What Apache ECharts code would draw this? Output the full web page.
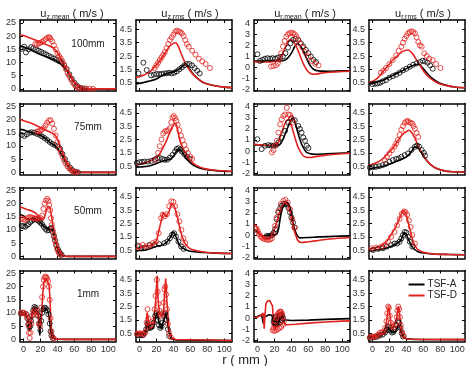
<!DOCTYPE html>
<html><head><meta charset="utf-8">
<script src="https://cdn.jsdelivr.net/npm/echarts@6/dist/echarts.min.js"></script>
<style>html,body{margin:0;padding:0;background:#fff}#c{width:474px;height:366px}</style>
</head><body><div id="c"></div>
<script>
// ---------- tick labels / categories ----------
const xTicks = [0, 20, 40, 60, 80, 100];
const yTicksUzMean = [0, 5, 10, 15, 20, 25];
const yTicksRms = [0.5, 1.5, 2.5, 3.5, 4.5];
const yTicksUrMean = [-2, -1, 0, 1, 2, 3, 4];
const stations = ['100mm', '75mm', '50mm', '1mm'];
const quantities = [['u', 'z,mean'], ['u', 'z,rms'], ['u', 'r,mean'], ['u', 'r,rms']];
const seriesNames = ['TSF-A', 'TSF-D'];

// ---------- 100 mm ----------
const uzMean100SimA = [[-4,16.2],[0,16],[10,14.5],[20,13],[30,11.8],[36,11],[40,10.4],[45,9.3],[50,7.5],[55,5],[60,2.5],[65,0.8],[70,0.1],[80,0],[109,0]];
const uzMean100SimD = [[-4,20.5],[0,20.2],[10,19],[20,17.8],[30,16.4],[35,15.5],[40,13.8],[45,11],[50,8],[55,5],[60,2.5],[65,0.8],[70,0.1],[80,0],[109,0]];
const uzMean100ExpA = [[-2,15.2],[1,16.0],[3,13.8],[6,15.0],[9,15.8],[12,15.5],[15,15.0],[18,14.5],[21,14.0],[24,13.5],[27,13.0],[30,12.5],[33,12.0],[36,11.5],[39,11.0],[42,10.5],[45,10.0],[48,9.0],[51,7.5],[54,5.5],[57,3.8],[60,2.3],[63,1.2],[66,0.5],[69,0.2],[72,0.1]];
const uzMean100ExpD = [[14,17.0],[16,16.8],[18,17.2],[20,17.5],[22,17.8],[24,18.3],[26,18.8],[28,19.3],[30,19.6],[31,19.4],[32,18.8],[34,18.0],[36,16.5],[38,15.0],[40,13.5],[42,12.5],[44,11.5],[46,10.5],[48,9.0],[50,7.5],[52,6.0],[54,4.8],[56,3.6],[58,2.5],[60,1.6],[62,1.0],[64,0.5],[66,0.3],[70,0.1],[74,0.1],[78,0],[82,0]];
const uzRms100SimA = [[-4,0.42],[0,0.45],[10,0.6],[20,0.78],[27,1.05],[33,1.2],[40,1.3],[46,1.5],[50,1.7],[54,1.88],[57,1.75],[60,1.45],[64,1.1],[68,0.85],[74,0.55],[80,0.4],[90,0.25],[100,0.17],[109,0.13]];
const uzRms100SimD = [[-4,0.9],[0,0.95],[6,1.1],[12,1.3],[18,1.7],[24,2.15],[30,2.7],[35,3.2],[40,3.45],[43,3.5],[46,3.2],[49,2.7],[53,2.1],[57,1.65],[62,1.2],[67,0.9],[73,0.6],[80,0.4],[90,0.25],[100,0.17],[109,0.13]];
const uzRms100ExpA = [[-1,1.2],[4.7,2.0],[8.6,1.45],[13.7,1.05],[17,1.1],[20,1.15],[23,1.15],[26,1.15],[29,1.2],[32,1.2],[35,1.25],[38,1.2],[41,1.25],[44,1.35],[47,1.5],[50,1.65],[53,1.8],[56,1.9],[59,1.9],[62,1.8],[65,1.6],[68,1.4],[71,1.2]];
const uzRms100ExpD = [[18,1.6],[20,1.8],[22,2.0],[24,2.2],[26,2.4],[28,2.6],[30,2.8],[32,3.1],[34,3.4],[36,3.7],[38,3.9],[40,4.1],[42,4.3],[44,4.4],[46,4.35],[48,4.3],[50,4.2],[52,4.0],[54,3.7],[56,3.4],[58,3.2],[62,2.9],[66,2.6],[70,2.3],[74,2.1],[78,1.9],[83,1.6]];
const urMean100SimA = [[-4,0.6],[10,0.6],[20,0.6],[30,0.62],[35,0.8],[40,1.3],[44,1.9],[47,2.15],[50,2.0],[54,1.5],[58,0.8],[62,0.2],[66,-0.15],[72,-0.3],[85,-0.33],[100,-0.3],[109,-0.3]];
const urMean100SimD = [[-4,0.5],[10,0.5],[20,0.55],[25,0.7],[30,1.3],[34,2.0],[37,2.45],[40,2.5],[43,2.3],[47,1.7],[51,0.9],[55,0.2],[59,-0.3],[63,-0.55],[68,-0.6],[75,-0.5],[85,-0.42],[100,-0.35],[109,-0.33]];
const urMean100ExpA = [[0,1.2],[3,0.6],[6,0.7],[9,0.8],[12,0.85],[15,0.8],[18,0.85],[21,0.8],[24,0.9],[27,0.95],[30,1.0],[33,1.3],[36,1.8],[39,2.2],[42,2.5],[45,2.6],[48,2.5],[51,2.2],[54,1.9],[57,1.6],[60,1.3],[63,1.0],[66,0.7],[69,0.5]];
const urMean100ExpD = [[16,0.1],[19,0.15],[22,0.2],[24,0.4],[26,0.7],[28,1.3],[30,1.9],[32,2.4],[34,2.8],[36,3.0],[38,3.1],[40,3.15],[42,3.1],[44,3.0],[46,2.8],[48,2.5],[50,2.2],[53,1.8],[56,1.4],[60,1.0],[64,0.6],[68,0.35],[72,0.2]];
const urRms100SimA = [[-4,0.43],[0,0.45],[12,0.68],[24,1.05],[36,1.42],[45,1.72],[50,1.85],[54,1.88],[58,1.7],[62,1.4],[66,1.1],[71,0.8],[78,0.5],[87,0.3],[97,0.18],[109,0.12]];
const urRms100SimD = [[-4,0.55],[0,0.6],[6,0.85],[12,1.3],[18,1.75],[24,2.2],[30,2.55],[36,2.85],[42,2.95],[47,2.7],[52,2.2],[57,1.7],[61,1.3],[66,0.95],[71,0.7],[78,0.45],[87,0.3],[97,0.18],[109,0.12]];
const urRms100ExpA = [[0,0.4],[3,0.42],[6,0.45],[9,0.5],[12,0.6],[16,0.7],[20,0.88],[24,1.0],[28,1.1],[32,1.25],[36,1.42],[40,1.55],[44,1.7],[48,1.85],[52,1.95],[56,2.05],[59,2.15],[62,2.1],[65,2.0],[68,1.8],[71,1.55]];
const urRms100ExpD = [[10,1.25],[13,1.4],[16,1.6],[20,1.9],[24,2.2],[28,2.55],[31,2.9],[34,3.2],[36,3.5],[38,3.8],[40,4.0],[42,4.2],[44,4.3],[46,4.35],[48,4.3],[50,4.2],[52,3.9],[54,3.55],[56,3.3],[58,3.2],[61,2.7],[64,2.5],[67,2.3],[71,2.2],[75,1.9],[80,1.6]];

// ---------- 75 mm ----------
const uzMean75SimA = [[-4,16.3],[0,16.1],[8,15.2],[16,14.5],[24,13.3],[31,11.4],[37,10.1],[41,8.8],[44,7.2],[47,5.6],[50,3.9],[53,2.4],[56,1.2],[59,0.4],[62,0.05],[70,0],[109,0]];
const uzMean75SimD = [[-4,20],[0,19.6],[10,18.5],[20,17],[30,15.5],[36,14.5],[38,13.8],[40,12.5],[42,11],[44,9.5],[46,7.7],[48,6],[50,4.4],[52,3],[54,2],[56,1.2],[58,0.6],[60,0.3],[64,0.05],[70,0],[109,0]];
const uzMean75ExpA = [[-2,14.2],[1,13.8],[4,14.4],[7,15.0],[10,15.2],[13,15.0],[16,14.6],[19,14.2],[22,13.6],[25,13.0],[28,12.3],[31,11.5],[34,10.8],[37,10.4],[40,9.8],[43,9.0],[46,7.0],[49,5.0],[52,3.2],[55,1.8],[58,0.8],[61,0.2],[64,0.05]];
const uzMean75ExpD = [[16,15.5],[18,15.5],[20,15.8],[22,16.2],[24,16.8],[26,17.8],[28,18.8],[30,19.6],[32,19.8],[34,18.5],[36,16.5],[38,14.0],[40,11.5],[42,9.0],[44,7.5],[46,6.0],[48,4.5],[50,3.3],[52,2.3],[54,1.5],[56,0.9],[58,0.4],[60,0.15],[63,0.05]];
const uzRms75SimA = [[-4,0.42],[0,0.44],[10,0.5],[20,0.7],[28,0.9],[33,0.98],[37,1.05],[40,1.25],[43,1.55],[46,1.78],[48,1.75],[51,1.5],[55,1.1],[60,0.75],[66,0.5],[75,0.3],[90,0.17],[109,0.1]];
const uzRms75SimD = [[-4,0.6],[0,0.65],[6,0.75],[12,0.88],[18,1.1],[23.5,1.4],[28,1.9],[31,2.3],[35,2.9],[39,3.45],[42,3.7],[44,3.5],[47,2.6],[50,2.0],[53,1.6],[56,1.25],[59,0.98],[64,0.7],[70,0.47],[78,0.3],[86,0.22],[96,0.16],[109,0.12]];
const uzRms75ExpA = [[-3,0.75],[0,0.8],[3,0.82],[6,0.85],[10,0.85],[14,0.9],[18,1.0],[21,1.1],[24,1.12],[27,1.05],[30,0.98],[33,1.0],[36,1.15],[39,1.35],[42,1.6],[44,1.8],[46,1.85],[48,1.75],[50,1.6],[53,1.4],[56,1.2],[59,1.05]];
const uzRms75ExpD = [[19,0.98],[22,1.5],[24,2.0],[26,2.5],[28,2.95],[30,3.1],[32,3.15],[34,3.2],[36,3.35],[37.5,3.8],[39,4.15],[40.5,4.25],[42,4.1],[43.5,3.9],[45,3.6],[47,3.2],[49,2.8],[51,2.45],[53,2.1],[55,1.75],[57,1.5],[60,1.2],[62,1.05]];
const urMean75SimA = [[-4,0.55],[0,0.55],[10,0.5],[20,0.48],[25,0.5],[29,0.9],[32.5,1.5],[36,2.2],[39,2.75],[42,3.0],[44,2.7],[46,2.1],[49,1.3],[52,0.63],[55,0.2],[58,-0.12],[63,-0.25],[68,-0.28],[80,-0.25],[95,-0.2],[109,-0.17]];
const urMean75SimD = [[-4,0.62],[0,0.6],[10,0.52],[20,0.55],[24,0.7],[27,1.3],[30.5,2.1],[33.5,2.65],[36.5,2.87],[39,2.5],[42,1.82],[45,1.0],[48,0.33],[51,-0.1],[54,-0.42],[58,-0.57],[63,-0.58],[68,-0.5],[76,-0.42],[84,-0.33],[95,-0.26],[109,-0.2]];
const urMean75ExpA = [[0,1.07],[5,0.18],[9,0.48],[13,0.54],[16,0.5],[19,0.48],[22,0.55],[25,0.8],[28.5,1.22],[32.5,1.82],[36.5,2.57],[40,2.95],[44,2.78],[48,2.27],[50,2.0],[52,1.67],[54,1.22],[56,0.93],[58,0.48],[60,0.27]];
const urMean75ExpD = [[17,-0.12],[19,0.09],[21,0.5],[23,0.93],[24.7,1.67],[26.7,2.42],[28.6,2.87],[30.6,3.16],[32.5,3.3],[34.5,3.9],[36.5,3.3],[38.4,3.25],[40,3.0],[42,2.57]];
const urRms75SimA = [[-4,0.32],[0,0.35],[12.5,0.5],[24,0.75],[32,0.96],[40,1.2],[44,1.45],[47,1.7],[50,1.95],[53,1.9],[56,1.72],[60,1.3],[63.5,0.96],[69,0.6],[75,0.35],[85,0.15],[95,0.09],[109,0.07]];
const urRms75SimD = [[-4,0.58],[0,0.65],[6,0.8],[12.5,1.08],[18,1.45],[24,1.84],[28,2.2],[32,2.6],[36,2.9],[40,3.1],[43,3.2],[46,3.05],[50,2.6],[53,2.15],[56,1.72],[60,1.3],[63.5,0.96],[69,0.6],[75,0.35],[85,0.15],[95,0.09],[109,0.07]];
const urRms75ExpA = [[-3,0.4],[0,0.42],[4,0.45],[8,0.5],[12,0.58],[16,0.68],[20,0.83],[24,0.96],[28,1.04],[31,1.08],[34,1.2],[38,1.33],[42,1.46],[46,1.72],[50,1.95],[52.5,2.05],[55,1.97],[58,1.72],[60.5,1.5],[62,1.3]];
const urRms75ExpD = [[14.5,0.96],[17,1.2],[20,1.46],[23,1.7],[26,1.97],[28,2.2],[30,2.47],[32,2.85],[34,3.23],[36,3.5],[38,3.74],[40,3.85],[41.5,3.9],[43,3.8],[45,3.75],[47,3.7],[48.5,3.5],[50,3.3],[52,3.0],[54,2.7]];

// ---------- 50 mm ----------
const uzMean50SimA = [[-4,15.9],[0,15.4],[4,14.2],[12,14.2],[20,12.9],[25.5,11],[31,10.1],[34.5,9.7],[36,8],[37.5,6],[39.5,3.8],[41,2.0],[43,1.0],[45,0.4],[49,0.05],[55,0],[109,0]];
const uzMean50SimD = [[-4,18.8],[0,18.3],[5,17.7],[10,17.2],[15,16.2],[20,14.5],[23,13.8],[25,15],[27,17.5],[29,19],[31,18.5],[33,15.5],[35,11],[37,7.5],[39,4.8],[41,2.8],[43,1.4],[45,0.6],[48,0.1],[55,0],[109,0]];
const uzMean50ExpA = [[-2,11.6],[0,11.4],[2,11.2],[4,11.8],[6,12.2],[8,13.0],[10,13.5],[12,13.9],[14,14.2],[16,13.8],[18,13.4],[20,12.8],[22,12.2],[24,11.2],[26,10.4],[28,9.8],[30,10.0],[31.5,10.5],[33,10.8],[34.5,9.2],[36,7.5],[37.5,6.0],[39,4.2],[40.5,2.8],[42,1.8],[43.5,1.0],[45,0.6]];
const uzMean50ExpD = [[-2,14.4],[0,14.0],[2,13.8],[4,14.4],[6,14.8],[8,14.9],[10,14.7],[12,14.5],[14,14.4],[16,14.2],[18,14.3],[20,14.6],[22,15.5],[23.5,18.0],[25,20.0],[26.5,21.2],[28,21.8],[29.5,21.0],[30.5,19.5],[31.5,17.5],[32.5,14.5],[33.5,12],[34.5,10],[36,8.0],[37,6.0],[38,4.5],[39.5,3.0],[41,1.8],[42.5,1.0],[44,0.5]];
const uzRms50SimA = [[-4,0.45],[0,0.48],[8,0.52],[19.6,0.78],[27.5,0.9],[33,1.15],[37,1.53],[39.5,1.86],[41,1.8],[43,1.53],[47,0.9],[51,0.65],[55,0.52],[62,0.4],[70,0.35],[90,0.28],[109,0.26]];
const uzRms50SimD = [[-4,0.6],[0,0.65],[7.8,0.78],[15.7,0.9],[19.6,1.15],[22,1.7],[25.5,2.66],[28,3.3],[31,3.04],[35,3.42],[38,4.0],[41,3.8],[45,2.9],[49,1.78],[52,1.25],[55,0.9],[60,0.6],[65,0.5],[78,0.35],[95,0.28],[109,0.26]];
const uzRms50ExpA = [[-2,0.85],[2,0.65],[6,0.7],[12,0.9],[17.6,0.9],[23.5,0.95],[29.4,1.03],[33,1.15],[36,1.4],[38.4,1.66],[40.8,1.78],[43,1.53],[46,1.15],[49,0.78],[52,0.6]];
const uzRms50ExpD = [[0,0.78],[4,0.9],[8,0.78],[12,0.85],[15.7,1.03],[19.6,1.15],[22.7,1.78],[25.5,2.9],[27.5,3.17],[30,3.04],[32.5,3.2],[35,3.8],[37.6,4.17],[40,4.12],[42,3.8],[44.7,3.2],[47,2.66],[49.4,2.03],[51.8,1.4],[54,1.03]];
const urMean50SimA = [[-4,0.5],[-1.5,0.38],[2,0.1],[5,-0.07],[10,-0.05],[17,0],[22.7,0.08],[25,0.6],[26.7,1.43],[28.6,2.19],[30.5,2.6],[32.5,2.79],[34.5,2.94],[36.5,2.8],[38.4,2.49],[40.5,1.8],[42,1.13],[44,0.5],[46,0.08],[48,-0.15],[50,-0.25],[60,-0.22],[72,-0.16],[90,-0.11],[109,-0.07]];
const urMean50SimD = [[-4,0.9],[-1.5,0.83],[1,0.4],[3,0.08],[6,-0.2],[9,-0.37],[12,-0.35],[15,-0.22],[18,0.1],[20,0.5],[22.7,1.13],[24.7,1.7],[26.7,2.19],[28.6,2.55],[30.6,2.79],[32.5,3.0],[34.5,2.9],[36.5,2.64],[38,2.2],[40,1.58],[42,0.9],[44,0.23],[46,-0.2],[48,-0.52],[52,-0.67],[58,-0.62],[68,-0.52],[85,-0.35],[109,-0.22]];
const urMean50ExpA = [[11,-0.07],[13,-0.12],[15,-0.07],[17,0.0],[19,0.2],[20.8,0.53],[22.7,1.43],[24.7,2.04],[26.7,2.4],[28.6,2.65],[30.6,2.8],[32.5,2.85],[34.5,2.75],[36.5,2.45],[38.4,2.04],[40,1.6],[42,1.13],[44,0.68]];
const urMean50ExpD = [[-1,0.6],[0.5,0.35],[2,0.1],[3.5,-0.1],[5,-0.22],[7,-0.3],[9,-0.37],[11,-0.4],[13,-0.43],[15,-0.4],[17,-0.3],[19,0.1],[20.8,0.83],[22.7,1.58],[24.7,2.19],[27.5,2.79],[30.6,3.09],[33,3.18],[35.7,2.94],[38.4,2.34],[41,1.43],[43.5,0.68]];
const urRms50SimA = [[-4,0.45],[0,0.47],[12.5,0.6],[24,0.84],[32,1.14],[34,1.3],[36,1.63],[38,1.82],[40,1.65],[42,1.38],[45,0.95],[48,0.65],[52,0.45],[56,0.33],[70,0.22],[90,0.18],[109,0.16]];
const urRms50SimD = [[-4,0.6],[0,0.65],[8.6,0.77],[16.5,1.14],[20,1.45],[24,1.87],[27,2.2],[30,2.6],[33,3.05],[35,3.35],[37,3.47],[39,3.3],[40,3.1],[42,2.6],[44,2.12],[46,1.6],[48,1.14],[51,0.75],[54,0.52],[60,0.35],[71,0.23],[90,0.18],[109,0.16]];
const urRms50ExpA = [[0.8,0.52],[6.7,0.6],[12.5,0.65],[17,0.77],[22,0.89],[26,1.0],[29,1.0],[32,1.14],[34,1.38],[36,1.63],[38,1.87],[40,1.82],[42,1.5],[44,1.14],[47,0.77]];
const urRms50ExpD = [[-1,0.65],[4.7,0.7],[10.6,0.77],[14.5,0.89],[18.4,1.14],[22,1.5],[26,1.87],[29,2.36],[32,2.85],[34.5,3.22],[37,3.4],[39,3.35],[41,3.15],[43,2.73],[45,2.24],[47,1.63],[50,1.0]];

// ---------- 1 mm ----------
const uzMean1SimA = [[-4,9.8],[0,9.9],[3,9.5],[5,7.5],[6.5,4.5],[7.5,3.2],[8.5,5.5],[10,9],[12,11.5],[13.5,12.3],[16,11.5],[17.5,9],[18.5,5.5],[19.3,1.5],[20.3,6],[21.5,10],[23,11.8],[25,12.2],[27,11.7],[29,10.5],[30.5,8],[32,3.5],[33,1.5],[35,0.4],[40,0.1],[50,0],[109,0]];
const uzMean1SimD = [[-4,9.8],[0,9.9],[3,9.7],[5,8.5],[6.5,5.5],[7.5,3.0],[8.5,4.5],[10,8.5],[12,10.6],[14,11.0],[16,10.3],[17.5,8.5],[19,6.0],[20,5.0],[21,7.5],[22,13],[23,18],[24,21.5],[26,23.2],[28,23.0],[30,21],[31,17],[32,10],[33,4],[34,1.5],[36,0.4],[40,0.1],[50,0],[109,0]];
const uzMean1ExpA = [[-3,9.8],[0,10],[3,9.6],[5,8],[6,6],[7,4.5],[8,5],[9,7],[10,9],[11.5,11],[13,12.3],[14.5,12],[16,11],[17.5,9],[19,6],[20,3.5],[21,7],[22,10],[23.5,11.5],[25,12],[26.5,11.8],[28,11],[29.5,9.5],[31,6],[32,3],[33,1.5],[34.5,0.5]];
const uzMean1ExpD = [[-3,10],[-1,10.2],[1,10],[3,9.5],[4.5,8],[5.5,5.5],[6.5,2.5],[7.5,0.5],[8.5,2.5],[9.5,6],[10.5,9],[12,10.5],[13.5,11],[15,10.5],[16.5,9],[18,6],[19.5,5],[21,12],[22,16],[23,20],[24,22.5],[25,23.5],[26,23.8],[27,23.5],[28,23],[29,22],[30,20],[31,15],[32,8],[33,3],[34,1],[36,0.3]];
const uzRms1SimA = [[-4,0.45],[2,0.42],[6,0.38],[7.8,0.7],[9,1.3],[10,1.07],[12,0.82],[15.7,0.87],[17.6,1.19],[19.6,1.8],[21,2.1],[22.5,1.44],[24,1.07],[26,0.87],[28,1.0],[29.5,1.7],[31,2.1],[32.5,1.56],[34.5,0.7],[37,0.13],[43,0.0],[109,-0.04]];
const uzRms1SimD = [[-4,0.57],[2,0.52],[5.9,0.45],[7.8,0.82],[9,2.05],[10,1.8],[11.8,1.07],[15.7,1.19],[17.6,1.8],[19.6,3.3],[20.8,4.8],[22,3.04],[23.5,2.05],[26,1.75],[28.5,2.2],[30,3.8],[31,4.6],[32.2,3.04],[34.5,1.07],[37,0.2],[43,0.03],[109,-0.04]];
const uzRms1ExpA = [[-2,0.35],[0,0.35],[2,0.35],[4,0.35],[6,0.5],[8,0.8],[9.5,1.2],[11,0.9],[13,0.9],[15,1.0],[17,1.3],[18.5,1.8],[20,2.0],[21.5,1.5],[23,1.1],[24.5,0.9],[26,1.0],[27.5,1.3],[29,1.8],[30.5,2.0],[32,1.5],[33.5,0.8],[35,0.3]];
const uzRms1ExpD = [[-3,0.45],[-1,0.48],[1,0.5],[3,0.45],[5,0.4],[7,0.6],[8.5,1.3],[9.5,2.3],[10.5,1.6],[12,1.0],[14,1.1],[16,1.4],[18,2.3],[19,3.3],[20.5,4.5],[21.5,3.6],[22.5,2.7],[23.5,2.2],[24.5,1.9],[26,1.8],[27.5,2.0],[28.5,2.8],[29.5,3.8],[30.5,4.0],[31.5,3.4],[32.5,2.3],[33.5,1.2],[35,0.5],[37,0.2]];
const urMean1SimA = [[-4,0.1],[0,0.15],[5,0.3],[6,0.35],[7,-0.5],[8,0.1],[10,0.25],[14,0.3],[17,0.25],[19,-0.3],[21,-0.4],[23,-0.2],[25,0.1],[27,0.3],[29,0.2],[31,-0.15],[33,-0.22],[40,-0.22],[60,-0.18],[80,-0.12],[100,-0.07],[109,-0.05]];
const urMean1SimD = [[-4,0.05],[0,0.1],[3,0.2],[5,0.35],[7,0.45],[8,-0.95],[9,0.3],[10,1.3],[12,1.55],[14.5,1.57],[16.5,1.45],[17.8,1.1],[18.8,-0.3],[19.8,-1.0],[21,-0.95],[23,-0.75],[25,-0.4],[27,0.2],[28.6,0.46],[30,0.3],[31,-0.2],[32.5,-0.6],[35,-0.6],[45,-0.55],[60,-0.45],[80,-0.35],[100,-0.27],[109,-0.25]];
const urMean1ExpA = [[19,-0.3],[20,-0.45],[21,-0.5],[22,-0.45],[23,-0.3],[24,-0.1],[25,0.05],[26,0.2],[27,0.3],[28,0.3],[29,0.2],[30,0.0],[29,-0.2],[27,-0.4],[25,-0.5],[23,-0.55],[21,-0.4],[20,-0.1],[21,0.1],[22,0.15]];
const urMean1ExpD = [[18,-1.1],[19,-0.9],[20,-0.6],[21,-0.3],[22,0.0],[23,0.2],[24,0.35],[25,0.45],[26,0.55],[27,0.6],[28,0.55],[29,0.4],[30,0.1],[31,-0.3],[30,-0.6],[28,-0.8],[26,-0.9],[24,-1.0],[22,-1.1],[20,-1.15]];
const urRms1SimA = [[-4,0.2],[0,0.2],[7,0.25],[8,0.35],[12,0.4],[15,0.5],[17,0.7],[19,1.0],[20.5,0.9],[22,0.6],[24,0.5],[26,0.55],[28,0.75],[30,1.1],[31,1.2],[32.5,0.9],[34,0.5],[36,0.25],[40,0.08],[50,0.03],[109,0.02]];
const urRms1SimD = [[-4,0.25],[0,0.25],[5,0.27],[7,0.35],[8,0.5],[10,0.55],[12,0.55],[14,0.7],[16,1.1],[17.5,1.8],[19,2.5],[20,2.3],[21,1.6],[22,1.1],[24,0.9],[26,1.0],[28,1.4],[29.5,2.1],[30.5,2.5],[31.5,2.3],[32.5,1.6],[34,0.8],[36,0.35],[38,0.15],[42,0.07],[60,0.03],[109,0.02]];
const urRms1ExpA = [[-3,0.15],[0,0.18],[3,0.2],[6,0.25],[9,0.35],[12,0.4],[15,0.55],[17,0.75],[18.5,1.0],[20,0.95],[21.5,0.7],[23,0.55],[25,0.6],[27,0.8],[28.5,1.1],[30,1.4],[31.5,1.3],[33,0.9],[34.5,0.5],[36,0.25]];
const urRms1ExpD = [[-3,0.2],[-1,0.22],[1,0.25],[3,0.25],[5,0.3],[7,0.4],[9,0.55],[11,0.55],[13,0.6],[15,0.9],[16.5,1.4],[17.5,2.0],[18.5,2.5],[19.5,2.4],[20.5,1.8],[21.5,1.3],[23,1.0],[25,0.95],[27,1.2],[28.5,1.7],[29.5,2.2],[30.5,2.5],[31.5,2.3],[32.5,1.7],[33.5,1.1],[35,0.6],[37,0.3]];

// panels: row-major, [simA, simD, expA, expD]
const panels = [
  [uzMean100SimA, uzMean100SimD, uzMean100ExpA, uzMean100ExpD],
  [uzRms100SimA, uzRms100SimD, uzRms100ExpA, uzRms100ExpD],
  [urMean100SimA, urMean100SimD, urMean100ExpA, urMean100ExpD],
  [urRms100SimA, urRms100SimD, urRms100ExpA, urRms100ExpD],
  [uzMean75SimA, uzMean75SimD, uzMean75ExpA, uzMean75ExpD],
  [uzRms75SimA, uzRms75SimD, uzRms75ExpA, uzRms75ExpD],
  [urMean75SimA, urMean75SimD, urMean75ExpA, urMean75ExpD],
  [urRms75SimA, urRms75SimD, urRms75ExpA, urRms75ExpD],
  [uzMean50SimA, uzMean50SimD, uzMean50ExpA, uzMean50ExpD],
  [uzRms50SimA, uzRms50SimD, uzRms50ExpA, uzRms50ExpD],
  [urMean50SimA, urMean50SimD, urMean50ExpA, urMean50ExpD],
  [urRms50SimA, urRms50SimD, urRms50ExpA, urRms50ExpD],
  [uzMean1SimA, uzMean1SimD, uzMean1ExpA, uzMean1ExpD],
  [uzRms1SimA, uzRms1SimD, uzRms1ExpA, uzRms1ExpD],
  [urMean1SimA, urMean1SimD, urMean1ExpA, urMean1ExpD],
  [urRms1SimA, urRms1SimD, urRms1ExpA, urRms1ExpD]
];

// ---------- layout / style ----------
const FONT = "'Liberation Sans', Arial, sans-serif";
const RED = '#e2231f', BLACK = '#000000';
const colLeft = [20, 136, 254, 369];
const colCenter = [67, 185, 300, 418];
const rowTop = [20, 103.5, 187.5, 270.5];
const PW = 96, PH = 71;
const yCfg = [
  {min: -0.8, max: 26.1, ticks: yTicksUzMean},
  {min: -0.12, max: 5.2, ticks: yTicksRms},
  {min: -2.11, max: 4.29, ticks: yTicksUrMean},
  {min: -0.12, max: 5.2, ticks: yTicksRms}
];

const grids = [], xAxes = [], yAxes = [], series = [];
const frameLine = {onZero: false, lineStyle: {color: BLACK, width: 1.5}};
panels.forEach((p, i) => {
  const row = Math.floor(i / 4), col = i % 4;
  grids.push({left: colLeft[col], top: rowTop[row], width: PW, height: PH, containLabel: false});
  const yc = yCfg[col];
  const tick = vals => ({show: true, inside: true, length: 3, customValues: vals, lineStyle: {color: BLACK, width: 1}});
  xAxes.push({gridIndex: i, type: 'value', min: -4, max: 109, position: 'bottom',
    axisLine: frameLine, axisTick: tick(xTicks), splitLine: {show: false},
    axisLabel: {show: row === 3, customValues: xTicks, fontSize: 9, color: '#333', margin: 4, fontFamily: FONT}});
  xAxes.push({gridIndex: i, type: 'value', min: -4, max: 109, position: 'top',
    axisLine: frameLine, axisTick: tick(xTicks), splitLine: {show: false}, axisLabel: {show: false}});
  yAxes.push({gridIndex: i, type: 'value', min: yc.min, max: yc.max, position: 'left',
    axisLine: frameLine, axisTick: tick(yc.ticks), splitLine: {show: false},
    axisLabel: {show: true, customValues: yc.ticks, fontSize: 9, color: '#333', margin: 4, fontFamily: FONT}});
  yAxes.push({gridIndex: i, type: 'value', min: yc.min, max: yc.max, position: 'right',
    axisLine: frameLine, axisTick: tick(yc.ticks), splitLine: {show: false}, axisLabel: {show: false}});
  const xi = 2 * i, yi = 2 * i;
  const smooth = row === 3 ? false : 0.3;
  series.push({type: 'line', name: seriesNames[0], xAxisIndex: xi, yAxisIndex: yi, data: p[0],
    symbol: 'none', smooth: smooth, lineStyle: {color: BLACK, width: 1.6}, itemStyle: {color: BLACK}, z: 2});
  series.push({type: 'line', name: seriesNames[1], xAxisIndex: xi, yAxisIndex: yi, data: p[1],
    symbol: 'none', smooth: smooth, lineStyle: {color: RED, width: 1.6}, itemStyle: {color: RED}, z: 3});
  series.push({type: 'scatter', name: 'expA', xAxisIndex: xi, yAxisIndex: yi, data: p[2],
    symbol: 'circle', symbolSize: 5, itemStyle: {color: 'rgba(0,0,0,0)', borderColor: BLACK, borderWidth: 1}, z: 4});
  series.push({type: 'scatter', name: 'expD', xAxisIndex: xi, yAxisIndex: yi, data: p[3],
    symbol: 'circle', symbolSize: 5, itemStyle: {color: 'rgba(0,0,0,0)', borderColor: RED, borderWidth: 1}, z: 5});
});

const titles = quantities.map((q, c) => ({
  text: '{m|' + q[0] + '}{s|' + q[1] + '}{m| ( m/s )}',
  left: colCenter[c], top: 2, textAlign: 'center',
  textStyle: {fontWeight: 'normal', rich: {
    m: {fontSize: 11, fontWeight: 'normal', fontFamily: FONT, color: '#222', lineHeight: 14, verticalAlign: 'middle'},
    s: {fontSize: 7, fontWeight: 'normal', fontFamily: FONT, color: '#222', lineHeight: 7, verticalAlign: 'bottom'}
  }}
}));
const stationTop = [34, 117.5, 201.5, 284.5];
stations.forEach((s, r) => titles.push({text: s, left: 83, top: stationTop[r], textAlign: 'center',
  textStyle: {fontSize: 10, fontWeight: 'normal', fontFamily: FONT, color: '#222'}}));
titles.push({text: 'r ( mm )', left: 240, top: 349, textAlign: 'center',
  textStyle: {fontSize: 13, fontWeight: 'normal', fontFamily: FONT, color: '#222'}});

const chart = echarts.init(document.getElementById('c'), null, {renderer: 'canvas'});
chart.setOption({
  animation: false,
  backgroundColor: '#fff',
  title: titles,
  legend: {
    data: [{name: 'TSF-A', icon: 'rect', itemStyle: {color: BLACK}}, {name: 'TSF-D', icon: 'rect', itemStyle: {color: RED}}],
    orient: 'vertical', right: 12, top: 274, itemWidth: 16, itemHeight: 2, itemGap: 0,
    selectedMode: false,
    textStyle: {fontSize: 10, fontFamily: FONT, color: '#222', lineHeight: 11, padding: [0, 0, 0, -2]}
  },
  grid: grids, xAxis: xAxes, yAxis: yAxes, series: series
});
</script></body></html>
